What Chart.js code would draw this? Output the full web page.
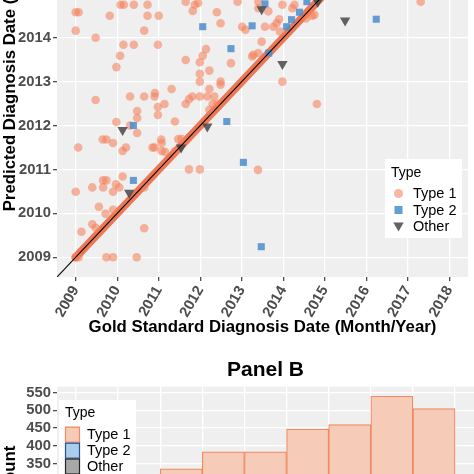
<!DOCTYPE html>
<html><head><meta charset="utf-8">
<script src="https://cdn.jsdelivr.net/npm/chart.js@4.4.1/dist/chart.umd.min.js"></script>
<style>
html,body{margin:0;padding:0;background:#fff;overflow:hidden;width:474px;height:474px;}
#wrapA{position:absolute;left:0;top:-200px;width:474px;height:545px;}
#wrapB{position:absolute;left:0;top:350px;width:474px;height:250px;}
canvas{display:block;}
</style></head><body>
<div id="wrapA"><canvas id="cA" width="474" height="545"></canvas></div>
<div id="wrapB"><canvas id="cB" width="474" height="250"></canvas></div>
<script>
// ---------- Panel A data (gold standard date x, predicted date y) ----------
const yearTicks = [2009, 2010, 2011, 2012, 2013, 2014, 2015, 2016, 2017, 2018];
const type1Gold = [2010.08,2010.16,2010.40,2010.73,2009.00,2009.07,2009.82,2010.73,2009.00,2010.65,
  2009.48,2010.15,2010.40,2010.07,2009.98,2009.48,2010.31,2010.65,2010.48,2010.48,
  2009.98,2010.31,2010.48,2009.65,2009.74,2011.00,2010.98,2011.65,2011.87,2011.95,
  2011.82,2012.40,2012.49,2012.90,2013.01,2012.14,2012.06,2011.65,2011.99,2012.74,
  2012.22,2011.99,2011.99,2012.49,2012.49,2012.22,2011.31,2010.91,2010.90,2011.81,
  2011.99,2011.73,2012.17,2012.34,2011.65,2011.14,2010.98,2010.98,2011.39,2012.30,
  2012.42,2012.22,2011.06,2011.47,2011.55,2013.40,2013.40,2013.64,2013.98,2014.27,
  2014.22,2014.69,2014.75,2014.55,2013.09,2013.56,2013.76,2013.84,2013.90,2013.92,
  2013.48,2013.28,2013.40,2013.25,2013.98,2014.81,2017.31,2009.06,2009.90,2010.21,
  2010.13,2010.85,2009.66,2009.74,2010.13,2009.00,2009.40,2009.66,2009.90,2009.97,
  2010.05,2010.65,2009.56,2009.90,2009.72,2009.40,2009.48,2010.65,2009.14,2009.74,
  2009.90,2010.47,2009.00,2009.07,2010.90,2011.07,2011.15,2011.73,2011.99,2013.39,
  2011.39,2011.07];
const type1Pred = [2014.75,2014.75,2014.75,2014.75,2014.58,2014.58,2014.50,2014.50,2014.16,2014.16,
  2014.00,2013.84,2013.84,2013.59,2013.33,2012.58,2012.66,2012.66,2012.33,2012.17,
  2012.08,2012.00,2011.83,2011.68,2011.68,2014.50,2013.84,2014.82,2014.75,2014.79,
  2014.61,2014.58,2014.33,2014.82,2014.25,2013.74,2013.59,2013.49,2013.44,2013.42,
  2013.25,2013.18,2013.00,2013.00,2012.93,2012.83,2012.83,2012.74,2012.66,2012.66,
  2012.66,2012.60,2012.66,2012.66,2012.49,2012.49,2012.42,2012.24,2012.09,2012.49,
  2012.49,2012.36,2011.68,2011.69,2011.69,2014.82,2014.67,2014.60,2014.75,2014.75,
  2014.67,2014.50,2014.52,2014.44,2014.18,2014.25,2014.25,2014.33,2014.42,2014.14,
  2013.91,2013.61,2013.65,2013.57,2013.00,2012.49,2014.82,2011.50,2011.60,2011.50,
  2011.42,2011.50,2010.75,2010.75,2010.84,2010.49,2010.59,2010.59,2010.49,2010.66,
  2010.59,2010.59,2010.15,2010.08,2009.99,2009.75,2009.67,2009.66,2009.58,2009.00,
  2009.00,2009.00,2009.00,2009.00,2011.50,2011.42,2011.40,2011.00,2011.00,2010.99,
  2011.41,2011.60];
const type2Gold = [2010.39,2012.06,2012.74,2012.64,2013.56,2014.57,2014.39,2014.20,2013.25,2014.08,2013.65,2016.24,2010.39,2013.04,2013.47];
const type2Pred = [2012.00,2014.25,2013.75,2012.09,2014.77,2014.82,2014.58,2014.41,2014.27,2014.25,2013.65,2014.42,2010.75,2011.16,2009.24];
const otherGold = [2010.13,2012.17,2010.29,2013.48,2013.98,2015.49,2011.54,2014.83];
const otherPred = [2011.90,2011.98,2010.47,2014.65,2013.40,2014.39,2011.50,2014.82];
// dense run of exact agreements along the diagonal (start / end of the run)
const agreeRun = [2009.00, 2015.00];
const xRange = [2008.55, 2018.45];
const yRange = [2008.55, 2018.57];
const identityLine = [2008.55, 2018.45];

// ---------- Panel B data (histogram by year) ----------
const binStarts = [2009, 2010, 2011, 2012, 2013, 2014, 2015, 2016, 2017];
const type1Counts = [215, 275, 317, 364, 363, 425, 437, 515, 482];
const type2Counts = [10, 12, 12, 13, 13, 14, 15, 16, 15];
const otherCounts = [5, 5, 6, 6, 7, 8, 8, 9, 8];
const countTicks = [100, 150, 200, 250, 300, 350, 400, 450, 500, 550];
const countRange = [97, 567];

const legendLabels = ['Type 1', 'Type 2', 'Other'];
const legendTitle = 'Type';

const FONT = "'Liberation Sans', Arial, Helvetica, sans-serif";
const C1 = 'rgba(244,130,92,0.58)';
const C2 = 'rgba(75,140,205,0.85)';
const C3 = 'rgba(70,70,70,0.85)';
const TICKFONT = {family: FONT, size: 14.8, weight: 'bold'};
const TITLEFONT = {family: FONT, size: 16.8, weight: 'bold'};

const pts = (xs, ys) => xs.map((x, i) => ({x, y: ys[i]}));

const bgPlugin = {
  id: 'panelBg',
  beforeDraw(chart) {
    const {ctx, chartArea: a} = chart;
    ctx.save();
    ctx.fillStyle = '#EFEFEF';
    ctx.fillRect(a.left, a.top, a.right - a.left, a.bottom - a.top);
    ctx.restore();
  }
};

function drawTri(ctx, x, y, r) {
  ctx.beginPath();
  ctx.moveTo(x - r * 0.866, y - r * 0.5);
  ctx.lineTo(x + r * 0.866, y - r * 0.5);
  ctx.lineTo(x, y + r);
  ctx.closePath();
  ctx.fill();
}

const legendA = {
  id: 'legendA',
  afterDraw(chart) {
    const ctx = chart.ctx;
    const oy = 200; // canvas offset from page
    ctx.save();
    ctx.fillStyle = '#fff';
    ctx.fillRect(385, 159 + oy, 77, 79);
    ctx.fillStyle = '#000';
    ctx.textBaseline = 'middle';
    ctx.textAlign = 'left';
    ctx.font = '14px ' + FONT;
    ctx.fillText(legendTitle, 391, 173 + oy);
    const ys = [193.5, 210, 226.5];
    ctx.font = '14.5px ' + FONT;
    legendLabels.forEach((lab, i) => {
      const y = ys[i] + oy;
      if (i === 0) { ctx.fillStyle = C1; ctx.beginPath(); ctx.arc(398.5, y, 4.5, 0, Math.PI * 2); ctx.fill(); }
      if (i === 1) { ctx.fillStyle = C2; ctx.fillRect(394.5, y - 4, 8, 8); }
      if (i === 2) { ctx.fillStyle = C3; drawTri(ctx, 398.5, y - 1, 6); }
      ctx.fillStyle = '#000';
      ctx.fillText(lab, 413, y + 0.5);
    });
    ctx.restore();
  }
};

const yearScale = (range, extra) => Object.assign({
  type: 'linear', min: range[0], max: range[1],
  afterBuildTicks: s => { s.ticks = yearTicks.map(v => ({value: v})); },
  ticks: {autoSkip: false, font: TICKFONT, color: '#4d4d4d', padding: 2, callback: v => String(v)},
  grid: {color: '#ffffff', lineWidth: 1.3, tickColor: '#4d4d4d', tickLength: 4, drawTicks: true},
  border: {display: false}
}, extra);

new Chart(document.getElementById('cA'), {
  type: 'scatter',
  data: {
    datasets: [
      {type: 'line', label: 'y = x', data: pts(identityLine, identityLine), showLine: true, borderColor: '#000', borderWidth: 1.1, pointRadius: 0, fill: false},
      {label: 'Other', data: pts(otherGold, otherPred), pointStyle: 'triangle', pointRotation: 180, pointRadius: 6, pointBackgroundColor: C3, pointBorderWidth: 0, pointBorderColor: 'rgba(0,0,0,0)'},
      {label: 'Type 2', data: pts(type2Gold, type2Pred), pointStyle: 'rect', pointRadius: 5, pointBackgroundColor: C2, pointBorderWidth: 0, pointBorderColor: 'rgba(0,0,0,0)'},
      {label: 'Type 1', data: pts(type1Gold, type1Pred), pointStyle: 'circle', pointRadius: 4.3, pointBackgroundColor: C1, pointBorderWidth: 0, pointBorderColor: 'rgba(0,0,0,0)'},
      {type: 'line', label: 'agreement', data: pts(agreeRun, agreeRun), showLine: true, borderColor: 'rgba(236,108,70,0.92)', borderWidth: 8, pointRadius: 0, fill: false, borderCapStyle: 'round'}
    ]
  },
  options: {
    responsive: false, animation: false, events: [],
    layout: {padding: {top: 37, right: 0, left: 0, bottom: 0}},
    plugins: {legend: {display: false}, tooltip: {enabled: false}},
    scales: {
      x: yearScale(xRange, {
        afterFit: s => { s.height = 68; },
        ticks: {autoSkip: false, minRotation: 60, maxRotation: 60, font: TICKFONT, color: '#4d4d4d', padding: 2, callback: v => String(v)},
        title: {display: true, text: 'Gold Standard Diagnosis Date (Month/Year)', color: '#000', font: TITLEFONT, padding: {top: 0, bottom: 8}}
      }),
      y: yearScale(yRange, {
        afterFit: s => { s.width = 57; },
        title: {display: true, text: 'Predicted Diagnosis Date (Month/Year)', color: '#000', font: TITLEFONT, padding: {top: 0, bottom: 0}}
      })
    }
  },
  plugins: [bgPlugin, legendA]
});

const legendB = {
  id: 'legendB',
  afterDraw(chart) {
    const ctx = chart.ctx;
    const oy = -350;
    ctx.save();
    ctx.fillStyle = '#fff';
    ctx.fillRect(59, 400 + oy, 77, 90);
    ctx.fillStyle = '#000';
    ctx.textBaseline = 'middle';
    ctx.textAlign = 'left';
    ctx.font = '14px ' + FONT;
    ctx.fillText(legendTitle, 65, 413 + oy);
    const fills = ['#F6CBB8', '#A9CDEB', '#A8A8A8'];
    const strokes = ['#EE8A62', '#2B4F8C', '#262626'];
    const tops = [426.7, 442.7, 458.5];
    ctx.font = '14.5px ' + FONT;
    legendLabels.forEach((lab, i) => {
      const t = tops[i] + oy;
      ctx.fillStyle = fills[i];
      ctx.fillRect(65, t, 15, 16);
      ctx.strokeStyle = strokes[i];
      ctx.lineWidth = 1.2;
      ctx.strokeRect(65.5, t + 0.5, 14, 15);
      ctx.fillStyle = '#000';
      ctx.fillText(lab, 87, t + 8.5);
    });
    ctx.restore();
  }
};

const barPts = (counts) => binStarts.map((b, i) => ({x: b + 0.5, y: counts[i]}));

new Chart(document.getElementById('cB'), {
  type: 'bar',
  data: {
    datasets: [
      {label: 'Other', data: barPts(otherCounts), backgroundColor: '#A8A8A8', borderColor: '#262626', borderWidth: 1},
      {label: 'Type 2', data: barPts(type2Counts), backgroundColor: '#A9CDEB', borderColor: '#2B4F8C', borderWidth: 1},
      {label: 'Type 1', data: barPts(type1Counts), backgroundColor: '#F6CBB8', borderColor: '#EE8A62', borderWidth: 1.2}
    ]
  },
  options: {
    responsive: false, animation: false, events: [],
    categoryPercentage: 1.0, barPercentage: 1.0,
    layout: {padding: 0},
    plugins: {
      legend: {display: false}, tooltip: {enabled: false},
      title: {display: true, text: 'Panel B', fullSize: false, color: '#000', font: {family: FONT, size: 21, weight: 'bold'}, padding: {top: 8.1, bottom: 3.4}}
    },
    scales: {
      x: yearScale(xRange, {
        stacked: true, offset: false,
        afterFit: s => { s.height = 47; },
        ticks: {autoSkip: false, minRotation: 60, maxRotation: 60, font: TICKFONT, color: '#4d4d4d', padding: 2, callback: v => String(v)},
        grid: {color: '#ffffff', lineWidth: 1.3, tickColor: '#4d4d4d', tickLength: 4, offset: false}
      }),
      y: {
        type: 'linear', stacked: true, min: countRange[0], max: countRange[1],
        afterBuildTicks: s => { s.ticks = countTicks.map(v => ({value: v})); },
        afterFit: s => { s.width = 57; },
        ticks: {autoSkip: false, font: TICKFONT, color: '#4d4d4d', padding: 2},
        grid: {color: '#ffffff', lineWidth: 1.3, tickColor: '#4d4d4d', tickLength: 4},
        border: {display: false},
        title: {display: true, text: 'Count', color: '#000', font: TITLEFONT, padding: {top: 0, bottom: 0}}
      }
    }
  },
  plugins: [bgPlugin, legendB]
});
</script>
</body></html>
